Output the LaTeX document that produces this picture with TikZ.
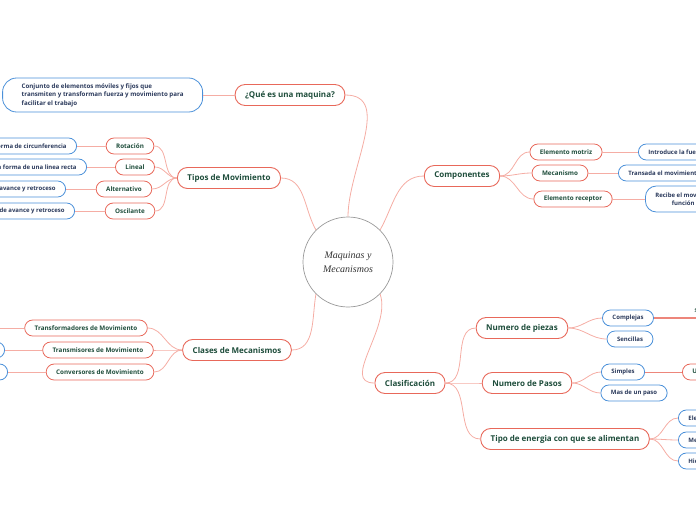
\documentclass[tikz,border=0pt]{standalone}
\usepackage{fontspec}
\setmainfont{Open Sans}
\newfontfamily\handfont{Liberation Serif}
\definecolor{redb}{HTML}{E8685A}
\definecolor{conn}{HTML}{F5ADA4}
\definecolor{blueb}{HTML}{4A90D9}
\definecolor{greent}{HTML}{1E4D3B}
\definecolor{navyt}{HTML}{2B3A5C}
\tikzset{
 lone/.style={draw=redb,line width=0.9pt,rounded corners=10pt,fill=white,font=\fontsize{8}{9}\selectfont\bfseries,text=greent,minimum height=21pt,inner xsep=10pt},
 ltwo/.style={draw=redb,line width=0.8pt,rounded corners=8pt,fill=white,font=\fontsize{6.3}{7}\selectfont\bfseries,text=greent,minimum height=16pt,inner xsep=10pt},
 leaf/.style={draw=blueb,line width=0.8pt,rounded corners=8pt,fill=white,font=\fontsize{6}{7.5}\selectfont\bfseries,text=navyt,minimum height=16pt,inner xsep=10pt,align=left},
 cn/.style={draw=conn,line width=0.8pt},
}
\begin{document}
\begin{tikzpicture}[x=1pt,y=-1pt]
\useasboundingbox (0,0) rectangle (696,520);
\clip (0,0) rectangle (696,520);
\node[circle,draw=gray!80,line width=0.7pt,minimum size=90pt,align=center,font=\handfont\itshape\fontsize{10}{14}\selectfont,text=black!80] (c) at (348,262) {Maquinas y\\Mecanismos};
% first level
\node[lone] (q) at (290,95) {¿Qué es una maquina?};
\node[lone] (t) at (229,178) {Tipos de Movimiento};
\node[lone] (co) at (462,176) {Componentes};
\node[lone] (cl) at (237,350) {Clases de Mecanismos};
\node[lone] (cf) at (410,383) {Clasificación};
\draw[cn] (q.east) to[out=0,in=90] (c.north);
\draw[cn] (t.east) to[out=0,in=120] (c.north west);
\draw[cn] (co.west) to[out=180,in=60] (c.north east);
\draw[cn] (cl.east) to[out=0,in=260] (c.south west);
\draw[cn] (cf.west) to[out=180,in=290] (c.south east);
% que es
\node[leaf,anchor=east,minimum height=34pt,minimum width=200pt,rounded corners=14pt,font=\fontsize{6.2}{8.5}\selectfont\bfseries] (qa) at (203,95) {Conjunto de elementos móviles y fijos que\\transmiten y transforman fuerza y movimiento para\\facilitar el trabajo};
\draw[cn] (q.west) -- (qa.east);
% tipos
\node[ltwo] (r1) at (130,146) {Rotación};
\node[ltwo] (r2) at (135,167) {Lineal};
\node[ltwo] (r3) at (124,189) {Alternativo};
\node[ltwo] (r4) at (130,211) {Oscilante};
\foreach \n in {r1,r2,r3,r4} \draw[cn] (t.west) to[out=180,in=0] (\n.east);
\node[leaf,anchor=east] (b1) at (77,146) {Movimiento en forma de circunferencia};
\node[leaf,anchor=east] (b2) at (87,167) {Movimiento en forma de una linea recta};
\node[leaf,anchor=east] (b3) at (66,189) {Movimiento de avance y retroceso};
\node[leaf,anchor=east] (b4) at (75,211) {Movimiento de avance y retroceso};
\foreach \a/\b in {r1/b1,r2/b2,r3/b3,r4/b4} \draw[cn] (\a.west) -- (\b.east);
% componentes
\node[ltwo] (m1) at (566,152) {Elemento motriz};
\node[ltwo] (m2) at (560,173) {Mecanismo};
\node[ltwo] (m3) at (573,199) {Elemento receptor};
\foreach \n in {m1,m2,m3} \draw[cn] (co.east) to[out=0,in=180] (\n.west);
\node[leaf,anchor=west] (n1) at (638,152) {Introduce la fuerza};
\node[leaf,anchor=west] (n2) at (618,173) {Transada el movimiento};
\node[leaf,anchor=west,align=center,minimum height=26pt,rounded corners=11pt] (n3) at (645,199) {Recibe el movimiento\\función de};
\foreach \a/\b in {m1/n1,m2/n2,m3/n3} \draw[cn] (\a.east) -- (\b.west);
% clases
\node[ltwo] (k1) at (86,328) {Transformadores de Movimiento};
\node[ltwo] (k2) at (98,350) {Transmisores de Movimiento};
\node[ltwo] (k3) at (100,372) {Conversores de Movimiento};
\foreach \n in {k1,k2,k3} \draw[cn] (cl.west) to[out=180,in=0] (\n.east);
\node[leaf,anchor=east] (p2) at (5,350) {Engranajes};
\node[leaf,anchor=east] (p3) at (8,372) {Manivela};
\coordinate (p1) at (-2,328);
\draw[cn] (k1.west) -- (p1);
\draw[cn] (k2.west) -- (p2.east);
\draw[cn] (k3.west) -- (p3.east);
% clasificacion
\node[lone] (s1) at (522,328) {Numero de piezas};
\node[lone] (s2) at (527,383) {Numero de Pasos};
\node[lone] (s3) at (565,439) {Tipo de energia con que se alimentan};
\foreach \n in {s1,s2,s3} \draw[cn] (cf.east) to[out=0,in=180] (\n.west);
\node[leaf] (u1) at (628,318) {Complejas};
\node[leaf] (u2) at (630,339) {Sencillas};
\node[leaf] (u3) at (623,372) {Simples};
\node[leaf] (u4) at (634,393) {Mas de un paso};
\foreach \a/\b in {s1/u1,s1/u2,s2/u3,s2/u4} \draw[cn] (\a.east) to[out=0,in=180] (\b.west);
\node[ltwo,anchor=west] (w1) at (696,318) {Sistemas};
\node[font=\fontsize{5}{6}\selectfont\bfseries,text=greent] at (696,311) {S};
\node[ltwo,anchor=west] (w3) at (682,372) {Un paso};
\draw[redb!80,line width=1.2pt] (u1.east) -- (w1.west);
\draw[redb!80,line width=1pt] (u3.east) -- (w3.west);
\node[leaf,anchor=west] (e1) at (678,418) {Electricas};
\node[leaf,anchor=west] (e2) at (678,440) {Mecanicas};
\node[leaf,anchor=west] (e3) at (678,461) {Hidraulicas};
\foreach \n in {e1,e2,e3} \draw[cn] (s3.east) to[out=0,in=180] (\n.west);
\end{tikzpicture}
\end{document}
